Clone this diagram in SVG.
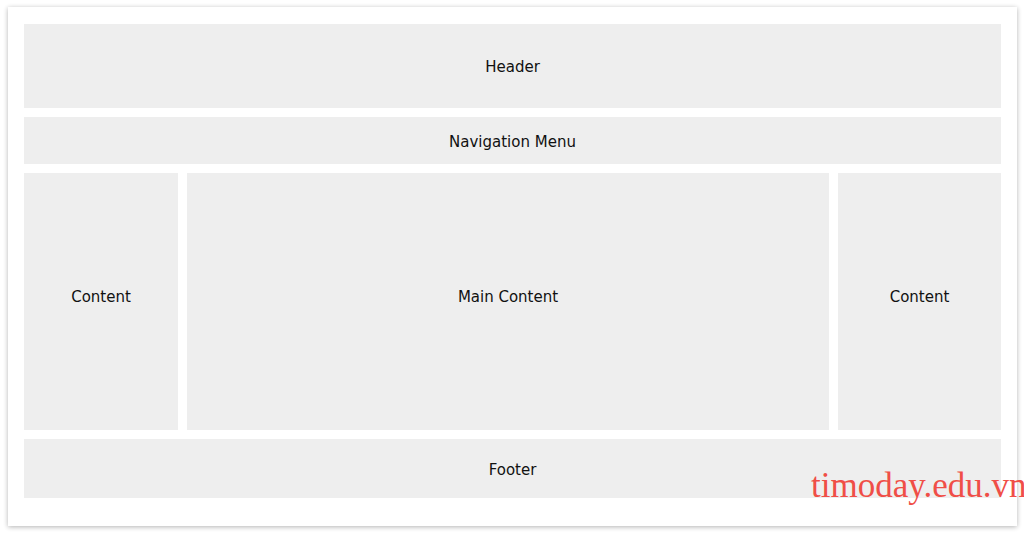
<svg xmlns="http://www.w3.org/2000/svg" width="1024" height="535" viewBox="0 0 1024 535">
<defs>
<filter id="sh" x="-5%" y="-5%" width="110%" height="110%">
<feGaussianBlur in="SourceAlpha" stdDeviation="2.5"/>
<feOffset dx="0" dy="1"/>
<feComponentTransfer><feFuncA type="linear" slope="0.3"/></feComponentTransfer>
<feMerge><feMergeNode/><feMergeNode in="SourceGraphic"/></feMerge>
</filter>
</defs>
<style>
.box{fill:#eeeeee}
.lbl{font-family:"DejaVu Sans",Verdana,sans-serif;font-size:15px;fill:#111;text-anchor:middle;dominant-baseline:central}
.wm{font-family:"Liberation Serif","Times New Roman",serif;font-size:35px;fill:#f04e47}
</style>
<rect x="0" y="0" width="1024" height="535" fill="#fff"/>
<rect x="8" y="7" width="1009" height="519" fill="#fff" filter="url(#sh)"/>
<g id="header"><rect class="box" x="24" y="24" width="977" height="84"/><text class="lbl" x="512.5" y="67">Header</text></g>
<g id="nav"><rect class="box" x="24" y="117" width="977" height="47"/><text class="lbl" x="512.5" y="141.5">Navigation Menu</text></g>
<g id="left"><rect class="box" x="24" y="173" width="154" height="257"/><text class="lbl" x="101" y="297">Content</text></g>
<g id="main"><rect class="box" x="187" y="173" width="642" height="257"/><text class="lbl" x="508" y="297">Main Content</text></g>
<g id="right"><rect class="box" x="838" y="173" width="163" height="257"/><text class="lbl" x="919.5" y="297">Content</text></g>
<g id="footer"><rect class="box" x="24" y="439" width="977" height="59"/><text class="lbl" x="512.5" y="469.5">Footer</text></g>
<g id="connectors"/>
<text class="wm" x="811" y="497">timoday.edu.vn</text>
</svg>
